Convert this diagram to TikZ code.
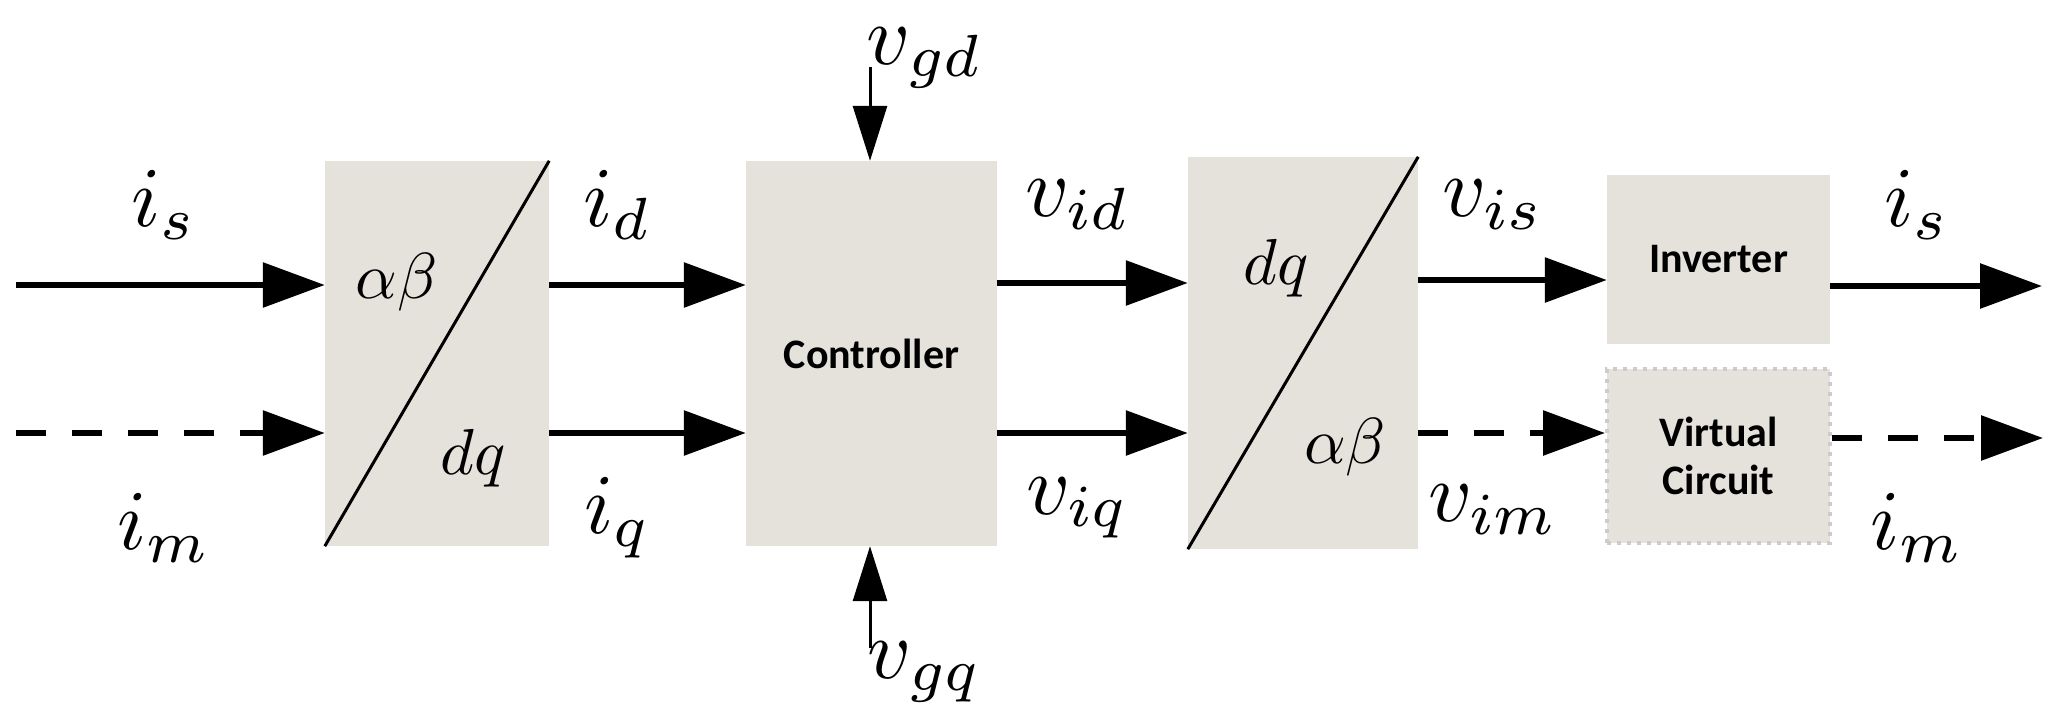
\documentclass[tikz,border=0pt]{standalone}
\usepackage{fontspec}
\usepackage{graphicx}
\newfontfamily\carlitofam{Carlito}
\usetikzlibrary{arrows.meta}
\definecolor{boxg}{HTML}{E5E2DC}
\newcommand{\sym}[2]{\scalebox{8.5}{$#1_{#2}$}}
\begin{document}
\begin{tikzpicture}[x=1pt,y=-1pt,
 blk/.style={fill=boxg,draw=none},
 arr/.style={line width=6pt,-{Triangle[length=62pt,width=44pt]}},
 darr/.style={arr,dash pattern=on 30pt off 26pt},
 varr/.style={line width=3pt,-{Triangle[length=55pt,width=34pt]}},
 lab/.style={inner sep=0pt,anchor=center},
 btxt/.style={font=\carlitofam\bfseries\fontsize{42}{48}\selectfont,align=center}]
\useasboundingbox (0,0) rectangle (2060,726);
% boxes
\node[blk,minimum width=224pt,minimum height=385pt,inner sep=0pt] (t1) at (437,353.5) {};
\node[blk,minimum width=251pt,minimum height=385pt,inner sep=0pt,btxt] (ctl) at (871.5,353.5) {Controller};
\node[blk,minimum width=230pt,minimum height=392pt,inner sep=0pt] (t2) at (1303,353) {};
\node[blk,minimum width=223pt,minimum height=169pt,inner sep=0pt,btxt] (inv) at (1718.5,259.5) {Inverter};
\node[blk,minimum width=223pt,minimum height=174pt,inner sep=0pt,btxt,draw=lightgray!80,line width=4pt,dash pattern=on 4pt off 6pt] (vc) at (1718.5,456) {Virtual\\Circuit};
\draw[line width=3pt] (t1.north east) -- (t1.south west);
\draw[line width=3pt] (t2.north east) -- (t2.south west);
\node[lab] (ab1) at (397,282) {\scalebox{6.5}{$\alpha\beta$}};
\node[lab] (dq1) at (473,458) {\scalebox{6.5}{$dq$}};
\node[lab] (dq2) at (1276,268) {\scalebox{6.5}{$dq$}};
\node[lab] (ab2) at (1345,447) {\scalebox{6.5}{$\alpha\beta$}};
% coordinates
\coordinate (s1) at (16,285);
\coordinate (s2) at (16,433);
\coordinate (vgdS) at (870,67);
\coordinate (vgqS) at (870,648);
\coordinate (o1) at (2042,286);
\coordinate (o2) at (2043,438);
% arrows
\draw[arr] (s1) -- (s1 -| t1.west);
\draw[darr] (s2) -- (s2 -| t1.west);
\draw[arr] (t1.east |- 0,285) -- (ctl.west |- 0,285);
\draw[arr] (t1.east |- 0,433) -- (ctl.west |- 0,433);
\draw[arr] (ctl.east |- 0,283) -- (t2.west |- 0,283);
\draw[arr] (ctl.east |- 0,433) -- (t2.west |- 0,433);
\draw[arr] (t2.east |- 0,280) -- (inv.west |- 0,280);
\draw[darr] (t2.east |- 0,433) -- (vc.west |- 0,433);
\draw[arr] (inv.east |- 0,286) -- (o1);
\draw[darr] (vc.east |- 0,438) -- (o2);
\draw[varr] (vgdS) -- (ctl.north -| vgdS);
\draw[varr] (vgqS) -- (ctl.south -| vgqS);
% labels
\node[lab] (lis) at (164,205) {\sym{i}{s}};
\node[lab] (lim) at (164,528) {\sym{i}{m}};
\node[lab] (lid) at (618,205) {\sym{i}{d}};
\node[lab] (liq) at (618,518) {\sym{i}{q}};
\node[lab] (lvgd) at (925,58) {\sym{v}{gd}};
\node[lab] (lvgq) at (925,672) {\sym{v}{gq}};
\node[lab] (lvid) at (1078,205) {\sym{v}{id}};
\node[lab] (lviq) at (1078,508) {\sym{v}{iq}};
\node[lab] (lvis) at (1493,205) {\sym{v}{is}};
\node[lab] (lvim) at (1493,510) {\sym{v}{im}};
\node[lab] (lis2) at (1917,205) {\sym{i}{s}};
\node[lab] (lim2) at (1917,528) {\sym{i}{m}};
\end{tikzpicture}
\end{document}
